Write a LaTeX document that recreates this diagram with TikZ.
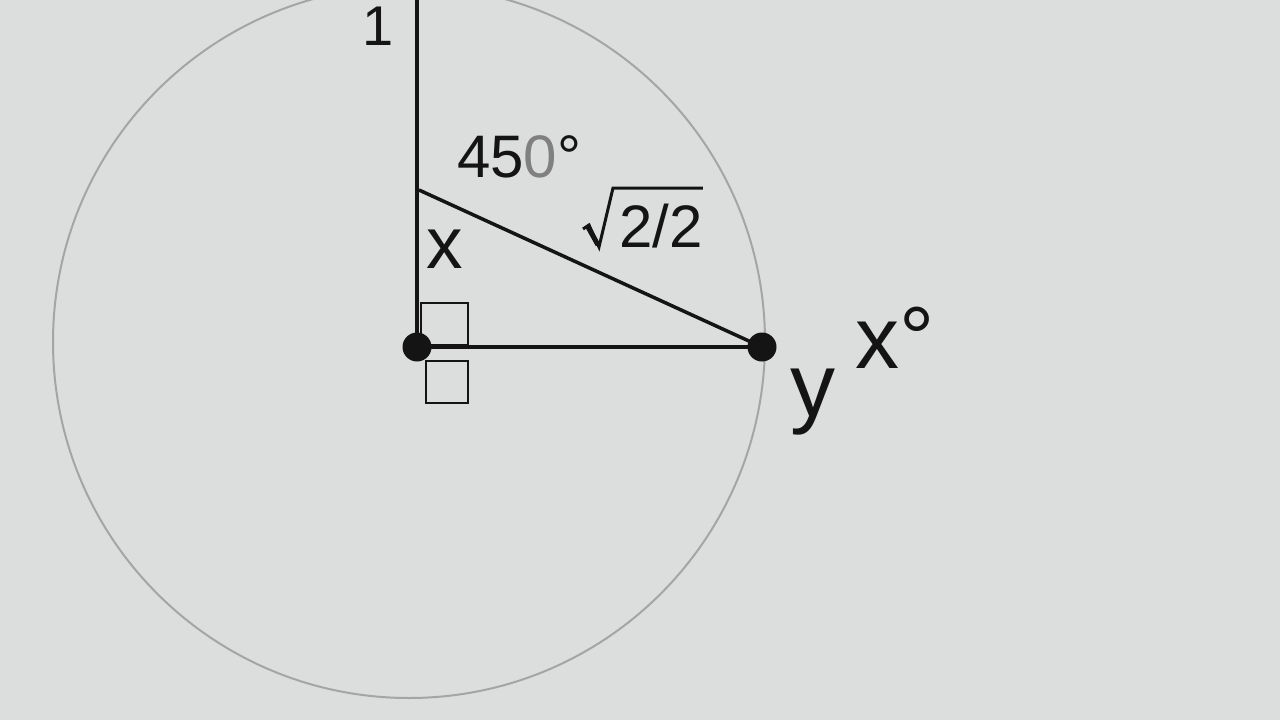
\documentclass[tikz,border=0pt]{standalone}
\usepackage{fontspec}
\setmainfont{Liberation Sans}
\definecolor{paper}{RGB}{220,221,221}
\definecolor{rim}{RGB}{165,165,165}
\definecolor{ink}{RGB}{20,20,20}
\newcommand{\fs}[1]{\fontsize{#1}{#1}\selectfont}

\begin{document}
\begin{tikzpicture}[x=1pt,y=-1pt,
  leg/.style={ink,line width=4pt},
  dot/.style={circle,fill=ink,inner sep=0pt,minimum size=29pt},
  tick/.style={draw=ink,line width=2.5pt},
  lbl/.style={inner sep=0pt,text=ink,anchor=base west}]
\path[use as bounding box,fill=paper] (0,0) rectangle (1280,720);
\draw[rim,line width=2pt] (409,342) circle[radius=356pt];
% the two legs and the slanted side
\coordinate (top) at (417,-5);
\coordinate (q) at (419,190);
\node[dot] (o) at (417,347) {};
\node[dot] (p) at (762,347) {};
\draw[leg] (top) -- (o.center) -- (p.center);
\draw[leg,line width=3.5pt] (q) -- (p.center);
\draw[tick] (421,303) rectangle (468,345);
\draw[tick] (426,361) rectangle (468,403);
% labels
\node[lbl,font=\fs{56}] (one) at (362,45) {1};
\node[lbl,font=\fs{60}] (ang) at (457,177) {45{\color{gray}0}°};
\node[lbl,font=\fs{60}] (hyp) at (619,247) {2/2};
\draw[ink,line width=3pt,line join=miter] (583,229) -- (589,225) -- (599,247)
  -- (613,188) -- (hyp.east |- 0,188);
\draw[ink,line width=5pt] (588,227) -- (598,245);
\node[lbl,font=\fs{73}] (x) at (426,268) {x};
\node[lbl,font=\fs{90}] (y) at (790,416) {y};
\node[lbl,font=\fs{88}] (xdeg) at (855,368) {x°};
\end{tikzpicture}
\end{document}
